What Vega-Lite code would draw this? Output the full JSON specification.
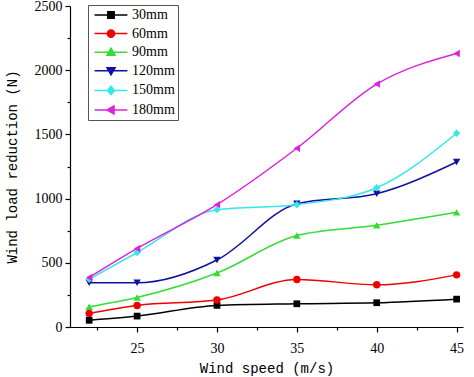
{
  "$schema": "https://vega.github.io/schema/vega-lite/v6.json",
  "width": 393,
  "height": 321,
  "autosize": {"type": "none"},
  "padding": {"left": 70, "top": 6, "right": 11, "bottom": 50},
  "background": "white",
  "config": {
    "view": {"stroke": null},
    "axis": {"grid": false, "domainColor": "#000", "tickColor": "#000", "labelColor": "#000", "titleColor": "#000", "domainWidth": 1.2, "tickWidth": 1.2,
      "labelFont": "Liberation Serif", "labelFontSize": 14, "titleFont": "Liberation Mono", "titleFontSize": 14, "titleFontWeight": "normal"}
  },
  "data": {"values": [
    {"speed": 22, "size": "30mm", "load": 52},
    {"speed": 25, "size": "30mm", "load": 85},
    {"speed": 30, "size": "30mm", "load": 168},
    {"speed": 35, "size": "30mm", "load": 181},
    {"speed": 40, "size": "30mm", "load": 189},
    {"speed": 45, "size": "30mm", "load": 217},
    {"speed": 22, "size": "60mm", "load": 106},
    {"speed": 25, "size": "60mm", "load": 168},
    {"speed": 30, "size": "60mm", "load": 210},
    {"speed": 35, "size": "60mm", "load": 370},
    {"speed": 40, "size": "60mm", "load": 329},
    {"speed": 45, "size": "60mm", "load": 406},
    {"speed": 22, "size": "90mm", "load": 158},
    {"speed": 25, "size": "90mm", "load": 230},
    {"speed": 30, "size": "90mm", "load": 420},
    {"speed": 35, "size": "90mm", "load": 712},
    {"speed": 40, "size": "90mm", "load": 792},
    {"speed": 45, "size": "90mm", "load": 893},
    {"speed": 22, "size": "120mm", "load": 344},
    {"speed": 25, "size": "120mm", "load": 344},
    {"speed": 30, "size": "120mm", "load": 522},
    {"speed": 35, "size": "120mm", "load": 960},
    {"speed": 40, "size": "120mm", "load": 1038},
    {"speed": 45, "size": "120mm", "load": 1285},
    {"speed": 22, "size": "150mm", "load": 372},
    {"speed": 25, "size": "150mm", "load": 580},
    {"speed": 30, "size": "150mm", "load": 914},
    {"speed": 35, "size": "150mm", "load": 953},
    {"speed": 40, "size": "150mm", "load": 1085},
    {"speed": 45, "size": "150mm", "load": 1509},
    {"speed": 22, "size": "180mm", "load": 386},
    {"speed": 25, "size": "180mm", "load": 612},
    {"speed": 30, "size": "180mm", "load": 953},
    {"speed": 35, "size": "180mm", "load": 1392},
    {"speed": 40, "size": "180mm", "load": 1892},
    {"speed": 45, "size": "180mm", "load": 2130}
  ]},
  "encoding": {
    "x": {"field": "speed", "type": "quantitative", "scale": {"domain": [20.8, 45.4], "nice": false, "zero": false},
      "axis": {"title": "Wind speed (m/s)", "values": [22.5, 25, 27.5, 30, 32.5, 35, 37.5, 40, 42.5, 45],
        "labelExpr": "datum.value % 5 === 0 ? datum.label : ''",
        "tickSize": {"condition": {"test": "datum.value % 5 === 0", "value": 5}, "value": 3},
        "labelPadding": 9, "titlePadding": 6}},
    "y": {"field": "load", "type": "quantitative", "scale": {"domain": [0, 2500], "nice": false},
      "axis": {"title": "Wind load reduction (N)", "values": [0, 250, 500, 750, 1000, 1250, 1500, 1750, 2000, 2250, 2500],
        "labelExpr": "datum.value % 500 === 0 ? datum.label : ''",
        "tickSize": {"condition": {"test": "datum.value % 500 === 0", "value": 5}, "value": 3},
        "labelPadding": 3, "titlePadding": 15, "format": "d"}},
    "color": {"field": "size", "type": "nominal",
      "scale": {"domain": ["30mm", "60mm", "90mm", "120mm", "150mm", "180mm"], "range": ["#000000", "#ee0000", "#33dd33", "#1010a0", "#33e8e8", "#dd22dd"]},
      "legend": {
        "title": null, "orient": "none", "legendX": 18, "legendY": -1,
        "strokeColor": "#555", "padding": 3, "rowPadding": 4.6,
        "labelFont": "Liberation Serif", "labelFontSize": 14, "labelColor": "#000",
        "symbolSize": 64, "symbolOffset": 13, "labelOffset": 14, "symbolStrokeWidth": 1.5,
        "encode": {"symbols": {"update": {
          "shape": {"signal": "datum.value === '30mm' ? 'M-4.1,0H4.1M-0.8,-0.8H0.8V0.8H-0.8Z' : datum.value === '60mm' ? 'M-4.1,0H4.1M-0.9,0A0.9,0.9,0,1,0,0.9,0A0.9,0.9,0,1,0,-0.9,0Z' : datum.value === '90mm' ? 'M-4.1,0H4.1M0,-1L1,0.75L-1,0.75Z' : datum.value === '120mm' ? 'M-4.1,0H4.1M0,1L1,-0.75L-1,-0.75Z' : datum.value === '150mm' ? 'M-4.1,0H4.1M0,-1.05L0.85,0L0,1.05L-0.85,0Z' : 'M-4.1,0H4.1M-1,0L0.75,-1L0.75,1Z'"},
          "fill": {"signal": "scale('color', datum.value)"},
          "stroke": {"signal": "scale('color', datum.value)"},
          "strokeWidth": {"value": 1.5},
          "opacity": {"value": 1}
        }}}
      }}
  },
  "layer": [
    {"mark": {"type": "line", "interpolate": "monotone", "strokeWidth": 1.5}},
    {"transform": [{"filter": "datum.size === '30mm'"}], "mark": {"type": "point", "shape": "square", "filled": true, "size": 45, "opacity": 1}},
    {"transform": [{"filter": "datum.size === '60mm'"}], "mark": {"type": "point", "shape": "circle", "filled": true, "size": 55, "opacity": 1}},
    {"transform": [{"filter": "datum.size === '90mm'"}], "mark": {"type": "point", "shape": "triangle-up", "filled": true, "size": 55, "opacity": 1}},
    {"transform": [{"filter": "datum.size === '120mm'"}], "mark": {"type": "point", "shape": "triangle-down", "filled": true, "size": 55, "opacity": 1}},
    {"transform": [{"filter": "datum.size === '150mm'"}], "mark": {"type": "point", "shape": "diamond", "filled": true, "size": 55, "opacity": 1}},
    {"transform": [{"filter": "datum.size === '180mm'"}], "mark": {"type": "point", "shape": "triangle-left", "filled": true, "size": 55, "opacity": 1}}
  ]
}
